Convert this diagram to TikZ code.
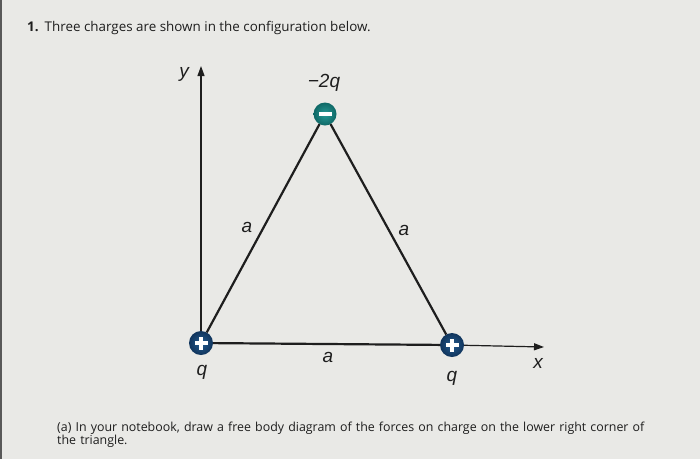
\documentclass[tikz,border=0pt]{standalone}
\usepackage{fontspec}
\setmainfont{Open Sans}
\newfontfamily\labelfont{Liberation Sans}
\usetikzlibrary{arrows.meta}
\definecolor{paper}{RGB}{233,233,230}
\definecolor{ink}{RGB}{30,30,30}
\definecolor{posblue}{RGB}{36,92,144}
\definecolor{posdark}{RGB}{16,52,92}
\definecolor{negteal}{RGB}{40,154,150}
\definecolor{negdark}{RGB}{14,104,102}
\tikzstyle{charge}=[circle,draw=none,inner sep=0pt,outer sep=0pt,minimum size=24pt]
\tikzstyle{poscharge}=[charge,shading=radial,inner color=posblue,outer color=posdark]
\tikzstyle{negcharge}=[charge,minimum size=23pt,shading=radial,inner color=negteal,outer color=negdark]
\tikzstyle{sign}=[fill=white,draw=none]
\tikzstyle{side}=[draw,ink,line width=2.2pt]
\tikzstyle{axis}=[draw,ink,line width=1.2pt,-{Triangle[length=10pt,width=7pt]}]
\tikzstyle{lbl}=[inner sep=0pt,font=\labelfont\itshape\fontsize{19}{19}\selectfont,ink]
\tikzstyle{txt}=[inner sep=0pt,anchor=base west,ink]

\begin{document}
\begin{tikzpicture}[x=1pt,y=-1pt]
  \fill[paper] (0,0) rectangle (700,459);
  \useasboundingbox (0,0) rectangle (700,459);
  \draw[gray!70!black,line width=2pt] (1,0) -- (1,459);

  \node[txt,font=\fontsize{13.4}{15}\selectfont] (title) at (27,31)
    {\textbf{1.}\hspace{6pt}Three charges are shown in the configuration below.};

  \coordinate (ytip) at (201,66);
  \coordinate (xtip) at (544,347);

  \path (201,343) node[poscharge] (L) {}
    ++ (251,2) node[poscharge] (R) {} edge[side] (L)
    (L) ++ (124,-229) node[negcharge] (T) {} edge[side] (L) edge[side] (R)
    ;
  \draw[axis] (L) -- (ytip);
  \draw[axis] (R) -- (xtip);

  % signs on the charges
  \foreach \c in {L,R} {
    \path[sign] ([shift={(-6.5pt,-1.6pt)}]\c.center) rectangle ([shift={(6.5pt,1.6pt)}]\c.center);
    \path[sign] ([shift={(-1.6pt,-6.5pt)}]\c.center) rectangle ([shift={(1.6pt,6.5pt)}]\c.center);
  }
  \path[sign] ([shift={(-6.5pt,-1.7pt)}]T.center) rectangle ([shift={(6.5pt,1.7pt)}]T.center);

  \node[lbl] (ylbl) at (184,74) {y};
  \node[lbl] (xlbl) at (538,363) {x};
  \node[lbl] (qT) at (324,83) {−2q};
  \node[lbl] (qL) at (202,372) {q};
  \node[lbl] (qR) at (452,378) {q};
  \node[lbl] (aL) at (247,227) {a};
  \node[lbl] (aR) at (404,230) {a};
  \node[lbl] (aB) at (328,357) {a};

  \node[txt,font=\fontsize{12.4}{13}\selectfont,align=left,text width=620pt,anchor=north west] (part) at (57,422)
    {(a) In your notebook, draw a free body diagram of the forces on charge on the lower right corner of\\the triangle.};
\end{tikzpicture}
\end{document}
